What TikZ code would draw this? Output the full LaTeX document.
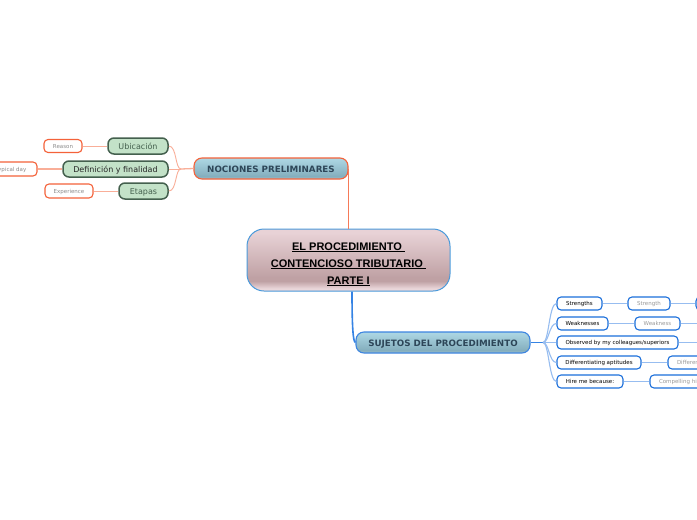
\documentclass[tikz,border=0pt]{standalone}
\usepackage{fontspec}
\setmainfont{DejaVu Sans}
\newfontfamily\arialf{Liberation Sans}
\definecolor{mainTop}{HTML}{E8D2D6}
\definecolor{mainBot}{HTML}{BFA1A4}
\definecolor{brTop}{HTML}{ABD5E2}
\definecolor{brBot}{HTML}{84AEBD}
\colorlet{mainEdge}{mainTop!90!white}
\colorlet{brEdge}{brBot!80!white}
\pgfdeclareverticalshading{mainshade}{100bp}{
 color(0bp)=(mainEdge); color(27bp)=(mainEdge); color(33bp)=(mainBot); color(36bp)=(mainBot);
 color(72bp)=(mainTop); color(100bp)=(mainTop)}
\pgfdeclareverticalshading{branchshade}{100bp}{
 color(0bp)=(brEdge); color(27bp)=(brEdge); color(31bp)=(brBot); color(72bp)=(brTop); color(100bp)=(brTop)}
\definecolor{orangeL}{HTML}{F4623A}
\definecolor{orangeS}{HTML}{F9AE98}
\definecolor{blueD}{HTML}{1B6FDB}
\definecolor{blueM}{HTML}{3583E4}
\definecolor{blueS}{HTML}{97BDF0}
\definecolor{mainB}{HTML}{4A9ADB}
\definecolor{greenF}{HTML}{C3E2C8}
\definecolor{greenD}{HTML}{44604E}
\definecolor{txtD}{HTML}{2D4658}
\tikzset{
 box/.style={rounded corners=#1,inner sep=0pt,text height=.72em,text depth=0pt},
 mainbox/.style={rounded corners=17pt,inner sep=0pt,align=center,draw=mainB,line width=1pt,shading=mainshade,font=\arialf\bfseries\fontsize{11}{17}\selectfont,text=black},
 branchbox/.style={box=8pt,line width=1.1pt,shading=branchshade,text=txtD,font=\bfseries\fontsize{8.75}{10}\selectfont},
 greenbox/.style={box=6pt,draw=greenD,line width=1.5pt,fill=greenF,font=\fontsize{8}{10}\selectfont,text=#1},
 leafo/.style={box=4pt,text height=.45em,draw=orangeL,line width=1.1pt,fill=white,text=black!45,font=\fontsize{5.5}{7}\selectfont},
 leafb/.style={box=4pt,text height=.45em,draw=blueD,line width=1.1pt,fill=white,text=black,font=\fontsize{5.5}{7}\selectfont},
 leafg/.style={leafb,text=black!40},
 conO/.style={draw=orangeL!85!white,line width=1.6pt},
 conOs/.style={draw=orangeS,line width=.9pt},
 conB/.style={draw=blueM,line width=1.6pt},
 conBs/.style={draw=blueS,line width=1.1pt},
}
\begin{document}
\begin{tikzpicture}[x=1pt,y=-1pt]
\useasboundingbox (0,0) rectangle (697,520);
\clip (0,0) rectangle (697,520);
\fill[white] (0,0) rectangle (697,520);

\coordinate (rightedge) at (697,0);
\coordinate (jl) at (181,169);
\coordinate (jr) at (543,342.5);

% nodes
\node[mainbox,minimum width=203pt,minimum height=62pt] (center) at (348.5,260) {\rule{0pt}{16pt}\underline{EL PROCEDIMIENTO\ }\\\underline{CONTENCIOSO TRIBUTARIO\ }\\\underline{PARTE I}};
\node[branchbox,draw=orangeL,minimum width=154pt,minimum height=21pt] (noc) at (271,168.5) {NOCIONES PRELIMINARES};
\node[branchbox,draw=blueD!85!white,minimum width=174pt,minimum height=21pt] (suj) at (443,342.5) {SUJETOS DEL PROCEDIMIENTO};

\node[greenbox=greenD,minimum width=60pt,minimum height=16pt] (ubi) at (138,146) {Ubicación};
\node[greenbox=black!85,minimum width=105pt,minimum height=16pt] (def) at (115.5,169) {Definición y finalidad};
\node[greenbox=greenD,minimum width=49pt,minimum height=16pt] (eta) at (143.5,191) {Etapas};
\node[leafo,minimum width=38pt,minimum height=13pt] (rea) at (63,146) {Reason};
\node[leafo,minimum width=52pt,minimum height=14pt] (typ) at (11,169) {Typical day};
\node[leafo,minimum width=48pt,minimum height=14pt] (exp) at (69,191) {Experience};

\node[leafb,minimum width=45pt,minimum height=13pt] (s1) at (579.5,303.5) {Strengths};
\node[leafg,minimum width=42pt,minimum height=13pt] (s2) at (649,303.5) {Strength};
\node[leafb,minimum width=30pt,minimum height=13pt] (s3) at (711,303.5) {};
\node[leafb,minimum width=51pt,minimum height=13pt] (w1) at (582.5,323.5) {Weaknesses};
\node[leafg,minimum width=45pt,minimum height=13pt] (w2) at (657.5,323.5) {Weakness};
\node[leafb,minimum width=121pt,minimum height=13pt] (o1) at (617.5,342.5) {Observed by my colleagues/superiors};
\node[leafb,minimum width=84pt,minimum height=13pt] (d1) at (599,362.5) {Differentiating aptitudes};
\node[leafg,minimum width=70pt,minimum height=13pt,text width=52pt,align=left] (d2) at (703,362.5) {Differentiator};
\node[leafb,minimum width=66pt,minimum height=13pt] (h1) at (590,381.5) {Hire me because:};
\node[leafg,minimum width=90pt,minimum height=13pt,text width=72pt,align=left] (h2) at (695,381.5) {Compelling hire};

% connectors
\draw[conO] (noc.east) -- (noc.east |- center.north);
\draw[conB] ([xshift=3.5pt]center.south) .. controls (352,325) and (353,342.5) .. (suj.west);
\draw[conOs,line width=1.3pt] (noc.west) -- (jl);
\draw[conOs] (jl) .. controls (175,169) and (177,146) .. (ubi.east);
\draw[conOs] (jl) -- (def.east);
\draw[conOs] (jl) .. controls (175,169) and (177,191) .. (eta.east);
\draw[conOs] (ubi.west) -- (rea.east);
\draw[conOs,line width=1.3pt] (def.west) -- (typ.east);
\draw[conOs] (eta.west) -- (exp.east);
\draw[conB] (suj.east) -- (jr);
\draw[conBs] (jr) .. controls (549,342.5) and (549,303.5) .. (s1.west);
\draw[conBs] (jr) .. controls (549,342.5) and (549,323.5) .. (w1.west);
\draw[conBs] (jr) -- (o1.west);
\draw[conBs] (jr) .. controls (549,342.5) and (549,362.5) .. (d1.west);
\draw[conBs] (jr) .. controls (549,342.5) and (549,381.5) .. (h1.west);
\draw[conBs] (s1.east) -- (s2.west);
\draw[conBs] (s2.east) -- (s3.west);
\draw[conBs] (w1.east) -- (w2.west);
\draw[conBs] (w2.east) -- (w2.east -| rightedge);
\draw[conBs] (o1.east) -- (o1.east -| rightedge);
\draw[conBs] (d1.east) -- (d2.west);
\draw[conBs] (h1.east) -- (h2.west);
\end{tikzpicture}
\end{document}
